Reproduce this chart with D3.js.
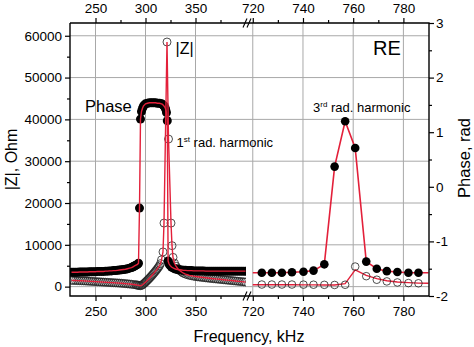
<!DOCTYPE html>
<html><head><meta charset="utf-8">
<script src="https://cdn.jsdelivr.net/npm/d3@7"></script>
<style>body{margin:0;background:#fff}svg text{font-family:Arial,"Liberation Sans",sans-serif}</style>
</head><body><svg id="c" width="474" height="347"></svg>
<script>
// ---------- DATA ----------
// Left panel (fundamental), |Z| in Ohm (open circles)
const zFreqL = [226,228,230,232,234,236,238,240,242,244,246,248,250,252,254,256,258,260,262,264,266,268,270,272,274,276,278,280,282,284,286,288,290,291,292,293,294,295,296,297,298,299,300,301,302,303,304,305,306,307,308,309,310,311,312,313,314,315,316,317.5,318.5,321.5,323,325.5,326.5,327.5,329,330.5,332,333.5,335,336.5,338,340,342,344,346,348,350,352,354,356,358,360,362,364,366,368,370,372,374,376,378,380,382,384,386,388,390,392,394,396,398,400];
const zValL = [1500,1480,1460,1440,1420,1400,1380,1350,1320,1290,1260,1230,1200,1170,1140,1110,1080,1050,1020,990,960,930,900,870,840,800,760,720,670,620,570,510,440,400,360,310,260,230,300,450,640,850,1070,1300,1540,1780,2030,2290,2560,2840,3120,3410,3700,4000,4320,4650,5000,5500,6400,8300,15200,58500,35300,15200,9800,7000,5600,4900,4400,4000,3700,3450,3200,3000,2850,2700,2600,2500,2420,2350,2290,2230,2170,2110,2060,2000,1950,1900,1850,1800,1750,1700,1650,1600,1550,1500,1450,1400,1350,1300,1250,1200,1150,1100];
// Left panel, phase in rad (filled circles)
const pFreqL = [226,228,230,232,234,236,238,240,242,244,246,248,250,252,254,256,258,260,262,264,266,268,270,272,274,276,278,280,282,284,286,287,288,289,290,291,292,293,294,295,296,297,298,299,300,302,304,306,308,310,312,314,316,317,318,319,320,321,321.8,322.6,323.5,324.5,326,328,330,332,334,336,338,340,342,344,346,348,350,352,354,356,358,360,362,364,366,368,370,372,374,376,378,380,382,384,386,388,390,392,394,396,398,400];
const pValL = [-1.565,-1.565,-1.565,-1.565,-1.56,-1.56,-1.56,-1.56,-1.56,-1.555,-1.555,-1.555,-1.555,-1.55,-1.55,-1.55,-1.55,-1.545,-1.545,-1.54,-1.54,-1.535,-1.535,-1.53,-1.525,-1.52,-1.515,-1.51,-1.5,-1.49,-1.48,-1.47,-1.46,-1.45,-1.44,-1.43,-1.42,-1.40,-0.39,1.24,1.38,1.44,1.48,1.50,1.52,1.53,1.54,1.54,1.54,1.54,1.53,1.53,1.52,1.51,1.49,1.47,1.43,1.36,1.21,-1.36,-1.41,-1.44,-1.47,-1.49,-1.505,-1.515,-1.52,-1.525,-1.53,-1.53,-1.535,-1.535,-1.535,-1.54,-1.54,-1.54,-1.54,-1.54,-1.54,-1.545,-1.545,-1.545,-1.545,-1.545,-1.545,-1.545,-1.545,-1.545,-1.545,-1.545,-1.545,-1.545,-1.545,-1.545,-1.545,-1.545,-1.545,-1.545,-1.545,-1.545];
// Right panel (3rd harmonic)
const freqR = [723.6,727.6,731.6,735.6,740.2,744.2,748.5,752.6,756.8,760.8,765.2,769.4,773.4,777.6,782,786];
const pValR = [-1.575,-1.575,-1.575,-1.565,-1.555,-1.535,-1.42,0.37,1.2,0.71,-1.37,-1.5,-1.545,-1.56,-1.575,-1.575];
const zValR = [500,500,500,500,480,460,430,400,450,4800,2500,1650,1250,1000,850,800];
// Right panel fit curves (red lines)
const fitFreqR = [720,723.6,727.6,731.6,735.6,740.2,744.2,748.5,752.6,756.8,760.8,765.2,769.4,773.4,777.6,782,786,790];
const pFitR = [-1.575,-1.575,-1.575,-1.575,-1.565,-1.555,-1.535,-1.42,0.37,1.2,0.71,-1.37,-1.5,-1.545,-1.56,-1.575,-1.575,-1.575];
const zFitR = [450,450,450,450,450,430,420,400,380,700,4000,2700,1900,1400,1100,950,850,800];
// Ticks
const xTicksL = [250,300,350], xMinorL = [275,325,375];
const xTicksR = [720,740,760,780], xMinorR = [730,750,770];
const zTicks = [0,10000,20000,30000,40000,50000,60000];
const zMinor = [5000,15000,25000,35000,45000,55000];
const pTicks = [-2,-1,0,1,2,3];
const pMinor = [-1.5,-0.5,0.5,1.5,2.5];

// ---------- SCALES ----------
const L = 70, R = 429, T = 23, B = 296, BRK = 247;
const xL = d3.scaleLinear().domain([224.5, 401.5]).range([L, BRK]);
const xR = d3.scaleLinear().domain([717.7, 790.2]).range([BRK, R]);
const yZ = d3.scaleLinear().domain([-2240, 63050]).range([B, T]);
const yP = d3.scaleLinear().domain([-2, 3]).range([B, T]);
const RED = "#e3203a";

const svg = d3.select("#c");
const defs = svg.append("defs");
defs.append("clipPath").attr("id","cl").append("rect").attr("x",L).attr("y",T).attr("width",BRK-L-1).attr("height",B-T);
defs.append("clipPath").attr("id","cr").append("rect").attr("x",BRK+2).attr("y",T).attr("width",R-BRK-2).attr("height",B-T);

// grid
const grid = svg.append("g").attr("stroke","#a8a8a8").attr("stroke-width",1);
xTicksL.forEach(v=>grid.append("line").attr("x1",xL(v)).attr("x2",xL(v)).attr("y1",T).attr("y2",B));
xTicksR.forEach(v=>grid.append("line").attr("x1",xR(v)).attr("x2",xR(v)).attr("y1",T).attr("y2",B));
zTicks.forEach(v=>grid.append("line").attr("x1",L).attr("x2",R).attr("y1",yZ(v)).attr("y2",yZ(v)));

// left panel data
const gl = svg.append("g").attr("clip-path","url(#cl)");
const zL = zFreqL.map((f,i)=>[f,zValL[i]]);
const pL = pFreqL.map((f,i)=>[f,pValL[i]]);
gl.selectAll("circle.z").data(zL).join("circle").attr("cx",d=>xL(d[0])).attr("cy",d=>yZ(d[1])).attr("r",4)
  .attr("fill","none").attr("stroke","#222").attr("stroke-width",0.8);
gl.selectAll("circle.p").data(pL).join("circle").attr("cx",d=>xL(d[0])).attr("cy",d=>yP(d[1])).attr("r",4.5).attr("fill","#000");
gl.append("path").datum(zL).attr("d",d3.line().x(d=>xL(d[0])).y(d=>yZ(d[1]))).attr("fill","none").attr("stroke",RED).attr("stroke-width",1.4);
gl.append("path").datum(pL).attr("d",d3.line().x(d=>xL(d[0])).y(d=>yP(d[1]))).attr("fill","none").attr("stroke",RED).attr("stroke-width",1.4);

// right panel data
const gr = svg.append("g").attr("clip-path","url(#cr)");
gr.append("path").datum(fitFreqR.map((f,i)=>[f,zFitR[i]])).attr("d",d3.line().x(d=>xR(d[0])).y(d=>yZ(d[1]))).attr("fill","none").attr("stroke",RED).attr("stroke-width",1.4);
gr.append("path").datum(fitFreqR.map((f,i)=>[f,pFitR[i]])).attr("d",d3.line().x(d=>xR(d[0])).y(d=>yP(d[1]))).attr("fill","none").attr("stroke",RED).attr("stroke-width",1.6);
gr.selectAll("circle.z").data(freqR.map((f,i)=>[f,zValR[i]])).join("circle").attr("cx",d=>xR(d[0])).attr("cy",d=>yZ(d[1])).attr("r",3.8)
  .attr("fill","none").attr("stroke","#222").attr("stroke-width",0.8);
gr.selectAll("circle.p").data(freqR.map((f,i)=>[f,pValR[i]])).join("circle").attr("cx",d=>xR(d[0])).attr("cy",d=>yP(d[1])).attr("r",4.3).attr("fill","#000");

// axes
function styleAxis(g){
  g.select(".domain").remove();
  g.attr("font-size",13.5).attr("font-family","Arial, 'Liberation Sans', sans-serif");
  g.selectAll("line").attr("stroke","#000").attr("stroke-width",1.2);
  g.selectAll("text").attr("fill","#000");
}
function put(axis, tx, ty){ svg.append("g").attr("transform",`translate(${tx},${ty})`).call(axis).call(styleAxis); }
const fmt = d=>String(d);
[[xL,xTicksL,xMinorL],[xR,xTicksR,xMinorR]].forEach(([s,maj,min])=>{
  put(d3.axisBottom(s).tickValues(maj).tickSize(5).tickPadding(5).tickFormat(fmt),0,B);
  put(d3.axisBottom(s).tickValues(min).tickSize(3).tickFormat(""),0,B);
  put(d3.axisTop(s).tickValues(maj).tickSize(5).tickPadding(5.5).tickFormat(fmt),0,T);
  put(d3.axisTop(s).tickValues(min).tickSize(3).tickFormat(""),0,T);
});
put(d3.axisLeft(yZ).tickValues(zTicks).tickSize(5).tickPadding(3).tickFormat(fmt),L,0);
put(d3.axisLeft(yZ).tickValues(zMinor).tickSize(3).tickFormat(""),L,0);
put(d3.axisRight(yP).tickValues(pTicks).tickSize(5).tickPadding(2).tickFormat(fmt),R,0);
put(d3.axisRight(yP).tickValues(pMinor).tickSize(3).tickFormat(""),R,0);

// frame
const fr = svg.append("g").attr("stroke","#000").attr("stroke-width",1.4).attr("fill","none");
fr.append("path").attr("d",`M${L},${T}V${B}H${R}V${T}H${L}`);
// axis break marks
[T,B].forEach(y=>{
  fr.append("line").attr("x1",BRK-4).attr("y1",y+4.5).attr("x2",BRK).attr("y2",y-4.5).attr("stroke-width",1.1);
  fr.append("line").attr("x1",BRK).attr("y1",y+4.5).attr("x2",BRK+4).attr("y2",y-4.5).attr("stroke-width",1.1);
});

// labels
const tx = (x,y,s,fs,anchor)=>svg.append("text").attr("x",x).attr("y",y).attr("font-size",fs).attr("text-anchor",anchor||"start").attr("fill","#000").text(s);
tx(85,112.3,"Phase",16.5);
tx(175.5,54,"|Z|",16);
tx(373,55,"RE",20);
const h1 = svg.append("text").attr("x",176.5).attr("y",146.7).attr("font-size",13).attr("fill","#000");
h1.append("tspan").text("1");
h1.append("tspan").attr("font-size",8).attr("dy",-5).text("st");
h1.append("tspan").attr("dy",5).text(" rad. harmonic");
const h3 = svg.append("text").attr("x",313).attr("y",111.7).attr("font-size",13).attr("fill","#000");
h3.append("tspan").text("3");
h3.append("tspan").attr("font-size",8).attr("dy",-5).text("rd");
h3.append("tspan").attr("dy",5).text(" rad. harmonic");
tx(249,342,"Frequency, kHz",16,"middle");
svg.append("text").attr("transform","translate(17,159.5) rotate(-90)").attr("text-anchor","middle").attr("font-size",16).attr("fill","#000").text("|Z|, Ohm");
svg.append("text").attr("transform","translate(470,158) rotate(-90)").attr("text-anchor","middle").attr("font-size",16.5).attr("fill","#000").text("Phase, rad");
</script></body></html>
